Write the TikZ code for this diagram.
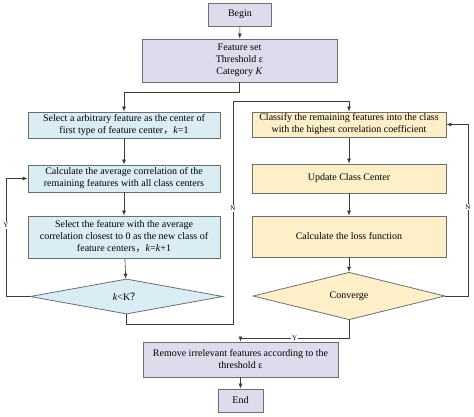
\documentclass[tikz,border=0pt]{standalone}
\usepackage{fontspec}
\setmainfont{Liberation Serif}
\newfontfamily\cjk{Noto Sans CJK SC}
\definecolor{clTerm}{HTML}{DEDCEC}
\definecolor{clInit}{HTML}{DAEDF5}
\definecolor{clIter}{HTML}{FDEFC8}
\definecolor{clEdge}{HTML}{6E6E6E}
\definecolor{clFlow}{HTML}{3C3C3C}
\usetikzlibrary{arrows.meta,positioning,shapes.geometric}
\tikzset{
  box/.style={rectangle, draw=clEdge, line width=0.8pt, align=center,
              inner xsep=1pt, inner ysep=2pt, font=\fontsize{10}{12}\selectfont},
  term/.style={box, fill=clTerm},
  init/.style={box, fill=clInit, minimum width=192pt},
  iter/.style={box, fill=clIter, minimum width=194pt},
  test/.style={diamond, draw=clEdge, line width=0.8pt, inner sep=0pt,
               minimum width=193pt, minimum height=30pt, font=\fontsize{10}{12}\selectfont},
  flow/.style={-{Latex[length=5pt,width=4pt]}, line width=0.6pt, draw=clFlow},
  flowlabel/.style={font=\fontsize{7}{8}\selectfont, fill=white, inner sep=1pt},
}

\begin{document}
\begin{tikzpicture}[x=1pt, y=-1pt]
  \useasboundingbox (0,0) rectangle (474,416);
  % start and input
  \node[term, minimum width=63pt, minimum height=23pt] (begin) at (240,14.5) {Begin};
  \node[term, minimum width=195pt, minimum height=43pt] (feat) at (239.5,60.5)
    {Feature set\\Threshold ε\\Category \textit{K}};
  % left column: initial centers
  \node[init, minimum height=26pt] (init1) at (124,125)
    {Select a arbitrary feature as the center of\\first type of feature center{\cjk ，}\textit{k}=1};
  \node[init, minimum height=27pt] (init2) at (124,178.5)
    {Calculate the average correlation of the\\remaining features with all class centers};
  \node[init, minimum height=42pt] (init3) at (124,237)
    {Select the feature with the average\\correlation closest to 0 as the new class of\\feature centers{\cjk ，}\textit{k}=\textit{k}+1};
  \node[test, fill=clInit] (kless) at (126.5,296.5) {\textit{k}<K{\cjk ？}};
  % right column: iteration
  \node[iter, minimum height=25pt] (iter1) at (349,124.5)
    {Classify the remaining features into the class\\with the highest correlation coefficient};
  \node[iter, minimum height=29pt] (iter2) at (349,178.5) {Update Class Center};
  \node[iter, minimum height=41pt] (iter3) at (349,236.5) {Calculate the loss function};
  \node[test, fill=clIter, minimum width=192pt] (conv) at (349,296) {Converge};
  % output
  \node[term, minimum width=195pt, minimum height=35pt] (remove) at (240.5,359.5)
    {Remove irrelevant features according to the\\threshold ε};
  \node[term, minimum width=45pt, minimum height=23pt] (end) at (240.5,400.5) {End};

  \coordinate (yturn) at (6,296.5);
  \coordinate (nturn) at (233,101);
  \coordinate (rturn) at (468,296);

  \draw[flow] (begin) -- (feat);
  \draw[flow] (feat.south) -- ++(0,10) -| (init1.north);
  \draw[flow] (init1) -- (init2);
  \draw[flow] (init2) -- (init3);
  \draw[flow] (init3) -- (kless);
  \draw[flow] (kless.west) -- (yturn) |- node[flowlabel, pos=0.3] {Y} (init2.west);
  \draw[flow] (kless.south) -- ++(0,10) -| node[flowlabel, pos=0.76] {N} (nturn) -| (iter1.north);
  \draw[flow] (iter1) -- (iter2);
  \draw[flow] (iter2) -- (iter3);
  \draw[flow] (iter3) -- (conv);
  \draw[flow] (conv.east) -- (rturn) |- node[flowlabel, pos=0.26] {N} (iter1.east);
  \draw[flow] (conv.south) -- ++(0,18) -| node[flowlabel, pos=0.25] {Y} (remove.north);
  \draw[flow] (remove) -- (end);
\end{tikzpicture}
\end{document}
